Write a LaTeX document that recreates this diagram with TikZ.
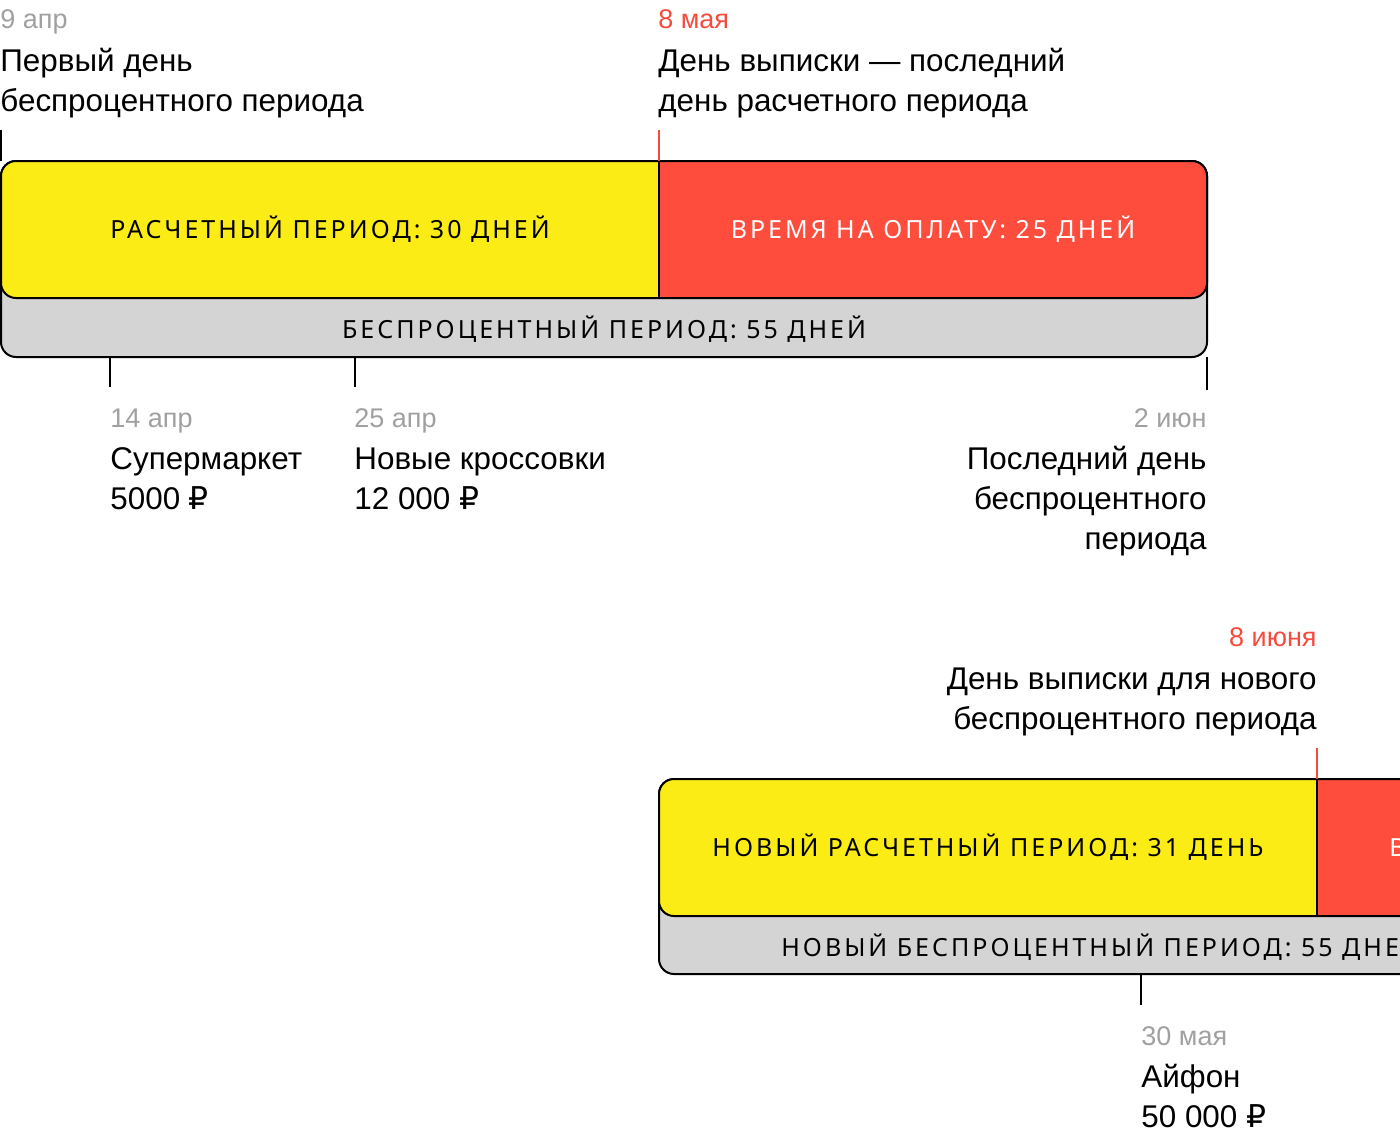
\documentclass[tikz,border=0pt]{standalone}
\usepackage{fontspec}
\setmainfont{Liberation Sans}
\newfontfamily\barfont[LetterSpace=12]{Noto Sans}
\newfontfamily\rubfont{DejaVu Sans}
\newcommand{\rubsign}{{\rubfont ₽}}
\definecolor{barYellow}{RGB}{252,236,22}
\definecolor{barRed}{RGB}{255,77,61}
\definecolor{barGray}{RGB}{212,212,212}
\definecolor{dateGray}{RGB}{160,160,160}
\definecolor{dateRed}{RGB}{245,75,60}
\tikzset{
  barframe/.style={draw=black, line width=1pt, rounded corners=7.5pt},
  divider/.style={draw=black, line width=1pt},
  tickline/.style={draw=black, line width=1pt},
  redtick/.style={draw=dateRed, line width=0.75pt},
  datelbl/.style={text=dateGray, font=\fontsize{13.5}{16}\selectfont, inner sep=0pt},
  redlbl/.style={text=dateRed, font=\fontsize{13.5}{16}\selectfont, inner sep=0pt},
  desc/.style={font=\fontsize{15.7}{20}\selectfont, inner sep=0pt},
  bartext/.style={font=\barfont\fontsize{12.5}{15}\selectfont, inner sep=0pt, anchor=base},
}
\begin{document}
\begin{tikzpicture}[x=0.5pt,y=-0.5pt]
\useasboundingbox (0,0) rectangle (1400,1136);
\clip (0,0) rectangle (1400,1136);

% ---------- top timeline ----------
\coordinate (gA1) at (1,161);   \coordinate (gA2) at (1207,357);
\coordinate (cA2) at (1207,298);
\coordinate (dA1) at (659,161); \coordinate (dA2) at (659,298);

\draw[barframe, fill=barGray] (gA1) rectangle (gA2);
\fill[barRed, rounded corners=7.5pt] (gA1) rectangle (cA2);
\begin{scope}
  \clip (0,150) rectangle (659,310);
  \fill[barYellow, rounded corners=7.5pt] (gA1) rectangle (cA2);
\end{scope}
\draw[barframe] (gA1) rectangle (cA2);
\draw[divider] (dA1) -- (dA2);

\node[bartext] (calcA) at (330,238) {РАСЧЕТНЫЙ ПЕРИОД: 30 ДНЕЙ};
\node[bartext, text=white] (payA) at (933,238) {ВРЕМЯ НА ОПЛАТУ: 25 ДНЕЙ};
\node[bartext] (freeA) at (604,338) {БЕСПРОЦЕНТНЫЙ ПЕРИОД: 55 ДНЕЙ};

% ticks above
\coordinate (tA0) at (1,130);
\draw[tickline] (tA0) -- (gA1);
\coordinate (tR0) at (659,130);
\draw[redtick] (tR0) -- (dA1);

% labels above
\node[datelbl, anchor=base west] (d9apr) at (0,28) {9 апр};
\node[desc, anchor=base west] (firstA) at (0,71) {Первый день};
\node[desc, anchor=base west] (firstB) at (0,111) {беспроцентного периода};

\node[redlbl, anchor=base west] (d8may) at (658,28) {8 мая};
\node[desc, anchor=base west] (stmtA) at (658,71) {День выписки — последний};
\node[desc, anchor=base west] (stmtB) at (658,111) {день расчетного периода};

% ticks below
\coordinate (t14a) at (110,357); \coordinate (t14b) at (110,387);
\coordinate (t25a) at (355,357); \coordinate (t25b) at (355,387);
\coordinate (t2b) at (1207,390);
\draw[tickline] (t14a) -- (t14b);
\draw[tickline] (t25a) -- (t25b);
\draw[tickline] (gA2) -- (t2b);

\node[datelbl, anchor=base west] (d14) at (110,427) {14 апр};
\node[desc, anchor=base west] (shopA) at (110,469) {Супермаркет};
\node[desc, anchor=base west] (shopB) at (110,509) {5000 \rubsign};

\node[datelbl, anchor=base west] (d25) at (354,427) {25 апр};
\node[desc, anchor=base west] (shoeA) at (354,469) {Новые кроссовки};
\node[desc, anchor=base west] (shoeB) at (354,509) {12 000 \rubsign};

\node[datelbl, anchor=base east] (d2jun) at (1207,427) {2 июн};
\node[desc, anchor=base east] (lastA) at (1207,469) {Последний день};
\node[desc, anchor=base east] (lastB) at (1207,509) {беспроцентного};
\node[desc, anchor=base east] (lastC) at (1207,549) {периода};

% ---------- bottom timeline ----------
\coordinate (gB1) at (659,779);  \coordinate (gB2) at (1865,974);
\coordinate (cB2) at (1865,916);
\coordinate (dB1) at (1317,779); \coordinate (dB2) at (1317,916);

\draw[barframe, fill=barGray] (gB1) rectangle (gB2);
\fill[barRed, rounded corners=7.5pt] (gB1) rectangle (cB2);
\begin{scope}
  \clip (600,770) rectangle (1317,930);
  \fill[barYellow, rounded corners=7.5pt] (gB1) rectangle (cB2);
\end{scope}
\draw[barframe] (gB1) rectangle (cB2);
\draw[divider] (dB1) -- (dB2);

\node[bartext] (calcB) at (988,856) {НОВЫЙ РАСЧЕТНЫЙ ПЕРИОД: 31 ДЕНЬ};
\node[bartext, anchor=base west, text=white] (payB) at (1389,856) {ВРЕМЯ НА ОПЛАТУ: 25 ДНЕЙ};
\node[bartext, anchor=base west] (freeB) at (781,956) {НОВЫЙ БЕСПРОЦЕНТНЫЙ ПЕРИОД: 55 ДНЕЙ};

\coordinate (tRB0) at (1317,748);
\draw[redtick] (tRB0) -- (dB1);

\node[redlbl, anchor=base east] (d8jun) at (1317,646) {8 июня};
\node[desc, anchor=base east] (newA) at (1317,689) {День выписки для нового};
\node[desc, anchor=base east] (newB) at (1317,729) {беспроцентного периода};

\coordinate (t30a) at (1141,974); \coordinate (t30b) at (1141,1005);
\draw[tickline] (t30a) -- (t30b);

\node[datelbl, anchor=base west] (d30) at (1141,1045) {30 мая};
\node[desc, anchor=base west] (phoneA) at (1141,1087) {Айфон};
\node[desc, anchor=base west] (phoneB) at (1141,1127) {50 000 \rubsign};
\end{tikzpicture}
\end{document}
